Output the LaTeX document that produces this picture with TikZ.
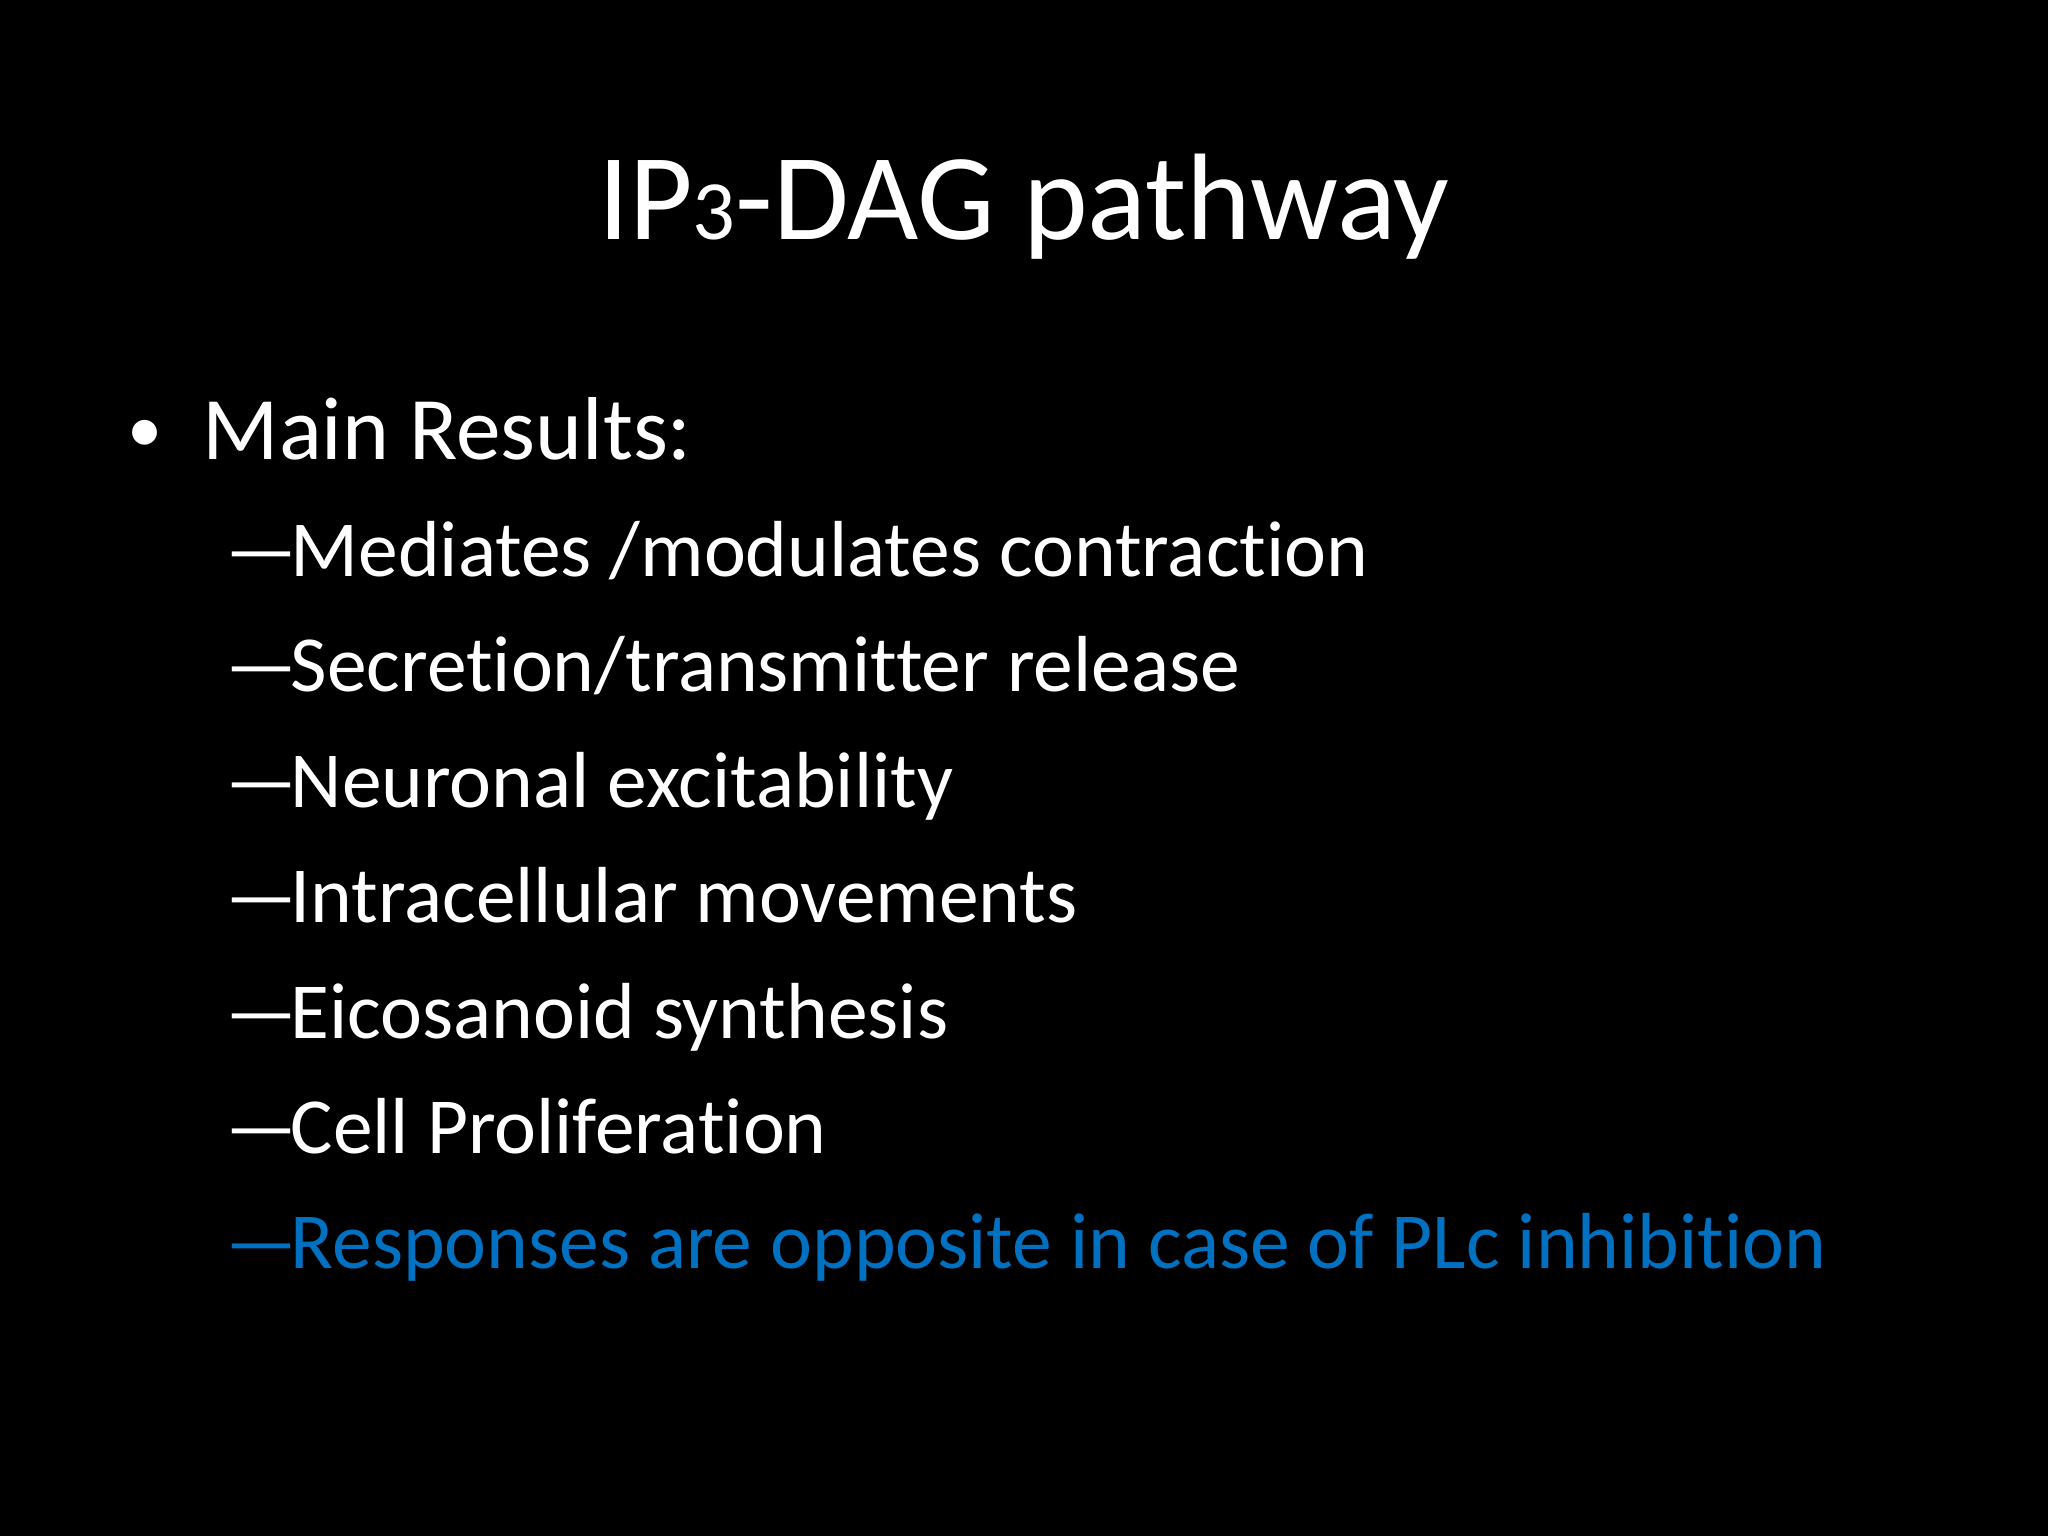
\documentclass[tikz,border=0pt]{standalone}
\usepackage{fontspec}
\setmainfont[Ligatures={NoCommon}]{Carlito}
\definecolor{bluetxt}{HTML}{0070C0}
\begin{document}
\begin{tikzpicture}[x=0.01cm,y=-0.01cm,
  sub/.style={anchor=base west,inner sep=0pt,text=white,font=\fontsize{22.6}{26}\selectfont}]
\fill[black] (0,0) rectangle (2048,1536);
\useasboundingbox (0,0) rectangle (2048,1536);
\node[anchor=base,inner sep=0pt,text=white,font=\fontsize{35}{40}\selectfont] (title) at (1024,239) {IP{\fontsize{24}{26}\selectfont 3}-DAG pathway};
\node[anchor=base west,inner sep=0pt,text=white,font=\fontsize{20}{30}\selectfont] (b0) at (127,452) {•};
\node[anchor=base west,inner sep=0pt,text=white,font=\fontsize{25.4}{30}\selectfont] (main) at (202,459) {Main Results:};
\foreach \y/\t [count=\i] in {576/{Mediates /modulates contraction},691/{Secretion/transmitter release},807/{Neuronal excitability},922/{Intracellular movements},1038/{Eicosanoid synthesis},1153/{Cell Proliferation}}{
  \node[sub] (d\i) at (225,\y) {—};
  \node[sub] (s\i) at (290,\y) {\t};
}
\node[sub,text=bluetxt] (d7) at (225,1268) {—};
\node[sub,text=bluetxt] (s7) at (290,1268) {Responses are opposite in case of PLc inhibition};
\end{tikzpicture}
\end{document}
